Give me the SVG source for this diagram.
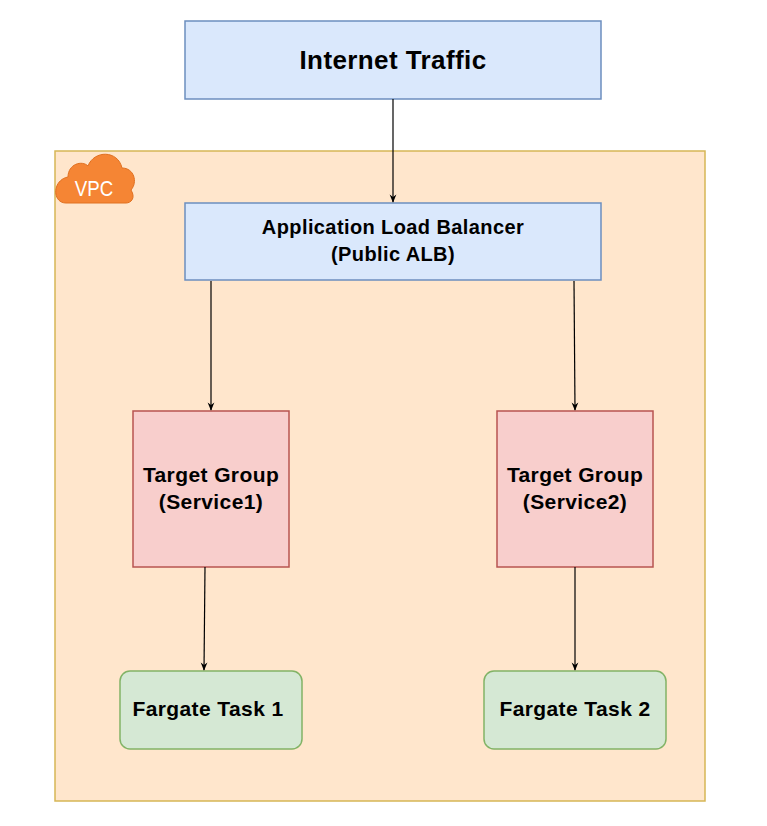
<svg xmlns="http://www.w3.org/2000/svg" width="767" height="826" viewBox="0 0 767 826">
<style>
text{font-family:"Liberation Sans",Arial,sans-serif;font-weight:bold;fill:#000;text-anchor:middle;letter-spacing:0.4px}
.blue{fill:#dae8fc;stroke:#6c8ebf;stroke-width:1.5}
.red{fill:#f8cecc;stroke:#b85450;stroke-width:1.5}
.green{fill:#d5e8d4;stroke:#82b366;stroke-width:1.5}
.e{stroke:#000;stroke-width:1.2;fill:none;marker-end:url(#a)}
</style>
<defs><marker id="a" viewBox="0 0 10 10" refX="9" refY="5" markerWidth="7" markerHeight="7" orient="auto"><path d="M0,1 L10,5 L0,9 L3,5 Z" fill="#000"/></marker></defs>
<rect width="767" height="826" fill="#fff"/>
<g id="vpc">
<rect x="55" y="151" width="650" height="650" fill="#ffe6cc" stroke="#d6b656" stroke-width="1.5"/>
<path d="M66,203 C52,203 52,180 68,177 C68,164 82,160 88,166 C94,150 118,150 122,168 C134,168 138,182 131,190 C136,198 131,203 126,203 Z" fill="#f58534" stroke="#e07020"/>
<text x="94" y="196" style="font-weight:normal;fill:#fff;font-size:22px;letter-spacing:0" transform="translate(94 0) scale(0.85 1) translate(-94 0)" >VPC</text>
</g>
<g id="internet"><rect class="blue" x="185" y="21" width="416" height="78"/><text x="393" y="69" font-size="26">Internet Traffic</text></g>
<g id="alb"><rect class="blue" x="185" y="203" width="416" height="77"/><text x="393" y="234" font-size="20">Application Load Balancer</text><text x="393" y="261" font-size="20">(Public ALB)</text></g>
<g id="tg1"><rect class="red" x="133" y="411" width="156" height="156"/><text x="211" y="482" font-size="21">Target Group</text><text x="211" y="509" font-size="21">(Service1)</text></g>
<g id="tg2"><rect class="red" x="497" y="411" width="156" height="156"/><text x="575" y="482" font-size="21">Target Group</text><text x="575" y="509" font-size="21">(Service2)</text></g>
<g id="ft1"><rect class="green" x="120" y="671" width="182" height="78" rx="10"/><text x="208" y="716" font-size="21">Fargate Task 1</text></g>
<g id="ft2"><rect class="green" x="484" y="671" width="182" height="78" rx="10"/><text x="575" y="716" font-size="21">Fargate Task 2</text></g>
<g id="edges">
<path class="e" d="M393,99 V202"/>
<path class="e" d="M211,281 V410"/>
<path class="e" d="M574,281 L575,410"/>
<path class="e" d="M205,567 L204,670"/>
<path class="e" d="M575,567 V670"/>
</g>
</svg>
